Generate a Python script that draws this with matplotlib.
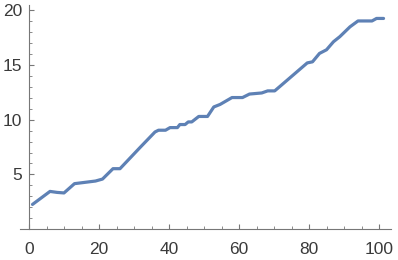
import matplotlib
matplotlib.use("Agg")
import matplotlib.pyplot as plt
from matplotlib.ticker import MultipleLocator

x_vals = [1, 6, 8, 10, 13, 19, 21, 24, 26, 31.7, 36, 37, 39, 40.3, 42.4, 43.1, 44.6, 45.5, 46.5,
          48.5, 51, 52.8, 54.6, 58, 61, 63, 66.5, 68.2, 70.2, 71.7, 79.5, 81, 83, 85, 87, 88.8,
          91.7, 94, 98, 99.3, 101.3]
y_vals = [2.25, 3.44, 3.35, 3.3, 4.15, 4.39, 4.57, 5.52, 5.52, 7.45, 8.88, 9.04, 9.04, 9.28, 9.28,
          9.56, 9.56, 9.8, 9.8, 10.3, 10.3, 11.17, 11.4, 12.03, 12.03, 12.35, 12.45, 12.64, 12.64,
          13.05, 15.2, 15.3, 16.07, 16.4, 17.14, 17.6, 18.5, 19.04, 19.04, 19.27, 19.27]
x_ticks = [0, 20, 40, 60, 80, 100]
y_ticks = [5, 10, 15, 20]

plt.rcParams['font.family'] = ['Liberation Sans', 'DejaVu Sans']
fig = plt.figure(figsize=(3.98, 2.6), dpi=100)
ax = fig.add_axes([19.9/398, 31/260, 371/398, 224/260])
ax.plot(x_vals, y_vals, color='#5E81B5', lw=2.3, solid_joinstyle='round', solid_capstyle='round')
ax.set_xlim(-2.6, 103.4)
ax.set_ylim(0, 20.5)
ax.spines['top'].set_visible(False)
ax.spines['right'].set_visible(False)
ax.spines['left'].set_position(('data', 0))
for s in ('left', 'bottom'):
    ax.spines[s].set_color('#777777')
    ax.spines[s].set_linewidth(0.8)
ax.set_xticks(x_ticks)
ax.set_yticks(y_ticks)
ax.xaxis.set_minor_locator(MultipleLocator(5))
ax.yaxis.set_minor_locator(MultipleLocator(1))
ax.tick_params(which='major', direction='in', length=3.5, width=0.8, color='#777777',
               labelsize=12.5, labelcolor='#3a3a3a')
ax.tick_params(which='minor', direction='in', length=2, width=0.6, color='#777777')
ax.tick_params(axis='x', which='major', pad=9)
ax.tick_params(axis='y', which='major', pad=5)
fig.savefig('out.png', dpi=100)
